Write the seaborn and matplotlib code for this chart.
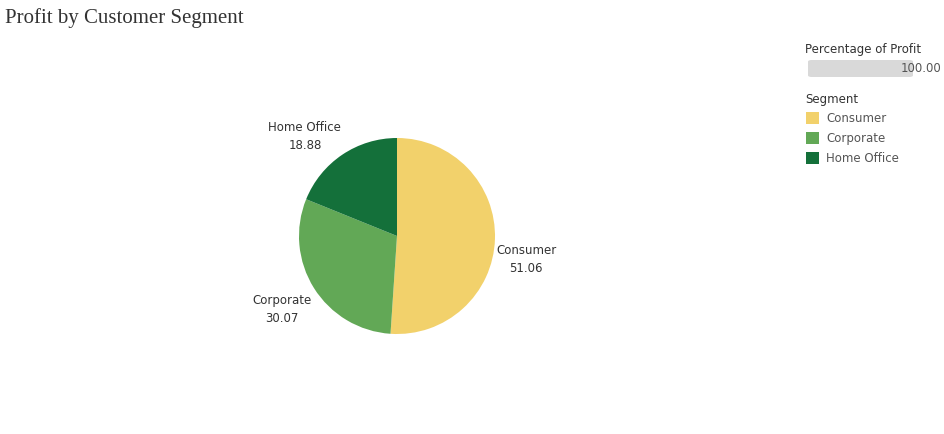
import matplotlib
matplotlib.use("Agg")
import matplotlib.pyplot as plt
from matplotlib.patches import Rectangle, FancyBboxPatch
import seaborn as sns

sns.set_style("white")

segments = ["Consumer", "Corporate", "Home Office"]
profit_pct = [51.06, 30.07, 18.88]
colors = ["#f2d16b", "#62a856", "#14703a"]
label_pos = [(1.32, -0.235), (-1.17, -0.745), (-0.94, 1.02)]

W, H = 944, 434
fig = plt.figure(figsize=(W / 100, H / 100), dpi=100)

# pie centred at pixel (397, 236), radius 98
cx, cy, r = 397, 236, 98
ax = fig.add_axes([(cx - r) / W, (H - cy - r) / H, 2 * r / W, 2 * r / H])
ax.pie(profit_pct, colors=colors, startangle=90, counterclock=False,
       radius=1, wedgeprops=dict(linewidth=0))
ax.set_xlim(-1, 1)
ax.set_ylim(-1, 1)
ax.set_aspect("auto")
ax.axis("off")
for seg, val, (x, y) in zip(segments, profit_pct, label_pos):
    ax.text(x, y, f"{seg}\n{val:.2f}", ha="center", va="center",
            fontsize=8.5, color="#333333", linespacing=1.5, clip_on=False)

def fx(px):
    return px / W

def fy(py):
    return 1 - py / H

fig.text(fx(5), fy(18), "Profit by Customer Segment", family="Liberation Serif",
         fontsize=15, color="#333333", va="center")

# legends
fig.text(fx(805), fy(50), "Percentage of Profit", fontsize=8.5, color="#333333", va="center")
fig.patches.append(FancyBboxPatch((fx(808), fy(77)), fx(105), 17 / H,
                                  boxstyle="round,pad=0,rounding_size=0.004",
                                  transform=fig.transFigure, facecolor="#d9d9d9",
                                  edgecolor="none"))
fig.text(fx(941), fy(69), "100.00", fontsize=8.5, color="#555555", va="center", ha="right")

fig.text(fx(805), fy(99), "Segment", fontsize=8.5, color="#333333", va="center")
for i, (seg, c) in enumerate(zip(segments, colors)):
    y = 118 + 20 * i
    fig.patches.append(Rectangle((fx(806), fy(y + 6)), 13 / W, 12 / H,
                                 transform=fig.transFigure, facecolor=c, edgecolor="none"))
    fig.text(fx(826), fy(y), seg, fontsize=8.5, color="#555555", va="center")

fig.savefig("out.png", dpi=100)
